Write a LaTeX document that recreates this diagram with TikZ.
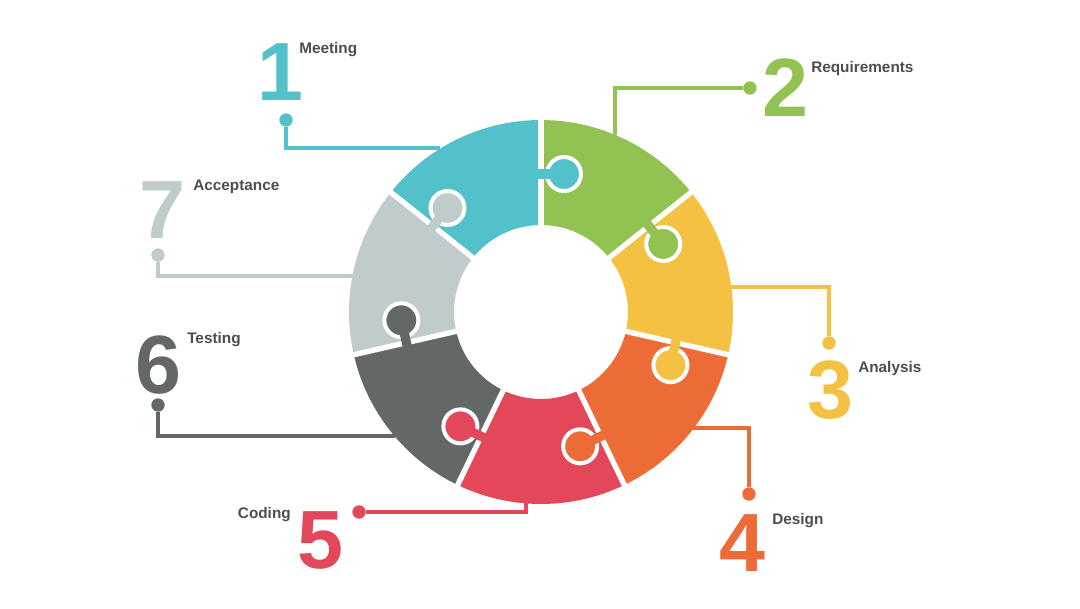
\documentclass[tikz,border=0pt]{standalone}
\usepackage{fontspec}
\setmainfont{Liberation Sans}
\usetikzlibrary{calc}

\definecolor{cMeet}{HTML}{52C1C9}
\definecolor{cReq}{HTML}{92C251}
\definecolor{cAna}{HTML}{F4C143}
\definecolor{cDes}{HTML}{EC6B37}
\definecolor{cCod}{HTML}{E2475A}
\definecolor{cTest}{HTML}{636867}
\definecolor{cAcc}{HTML}{BFCCCB}
\definecolor{txt}{HTML}{4D4D4D}

\tikzset{
  lead/.style={line width=2.3pt},
  dot/.style={circle, fill, inner sep=0pt, minimum size=10pt},
  num/.style={inner sep=0pt, font=\fontsize{62}{62}\selectfont\bfseries},
  lbl/.style={inner sep=0pt, text=txt, font=\fontsize{11.5}{12}\selectfont\bfseries},
}

\begin{document}
\begin{tikzpicture}[x=0.75pt, y=0.75pt]
\useasboundingbox (-541,-296) rectangle (539,312);

% leader lines with dots
\node[dot, cMeet] (d1) at (-255,192) {};
\coordinate (e1) at (-101,164);
\draw[lead, cMeet] (d1) |- (e1);
\node[dot, cReq] (d2) at (209,224) {};
\coordinate (e2) at (74,177);
\draw[lead, cReq] (d2) -| (e2);
\node[dot, cAna] (d3) at (288,-31) {};
\coordinate (e3) at (189,25);
\draw[lead, cAna] (d3) |- (e3);
\node[dot, cDes] (d4) at (208,-182) {};
\coordinate (e4) at (149,-116);
\draw[lead, cDes] (d4) |- (e4);
\node[dot, cCod] (d5) at (-182,-200) {};
\coordinate (e5) at (-15,-180);
\draw[lead, cCod] (d5) -| (e5);
\node[dot, cTest] (d6) at (-383,-93) {};
\coordinate (e6) at (-146,-124);
\draw[lead, cTest] (d6) |- (e6);
\node[dot, cAcc] (d7) at (-383,57) {};
\coordinate (e7) at (-186,36);
\draw[lead, cAcc] (d7) |- (e7);

% puzzle ring
\foreach \k/\col in {0/cMeet,1/cReq,2/cAna,3/cDes,4/cCod,5/cTest,6/cAcc}{
  \pgfmathsetmacro{\a}{141.43-51.43*\k}
  \pgfmathsetmacro{\b}{\a-51.43}
  \fill[\col] (\a:192) arc[start angle=\a, end angle=\b, radius=192]
    -- (\b:87) arc[start angle=\b, end angle=\a, radius=87] -- cycle;
}
\foreach \k in {0,...,6}{
  \pgfmathsetmacro{\a}{141.43-51.43*\k}
  \draw[white, line width=4pt] (\a:80) -- (\a:200);
}
\foreach \k/\col in {0/cMeet,1/cReq,2/cAna,3/cDes,4/cCod,5/cTest,6/cAcc}{
  \pgfmathsetmacro{\b}{141.43-51.43*(\k+1)}
  \filldraw[fill=\col, draw=white, line width=3pt]
    ($(\b:138)+(\b-90:23)$) circle (17);
  \draw[\col, line width=7pt] ($(\b:138)+(\b-90:-4)$) -- ($(\b:138)+(\b-90:10)$);
}

% numbers and labels
\node[num, cMeet] (n1) at (-261,240) {1};
\node[lbl, anchor=west] (l1) at (-242,262) {Meeting};
\node[num, cReq] (n2) at (244,224) {2};
\node[lbl, anchor=west] (l2) at (270,243) {Requirements};
\node[num, cAna] (n3) at (289,-78) {3};
\node[lbl, anchor=west] (l3) at (317,-57) {Analysis};
\node[num, cDes] (n4) at (201,-231) {4};
\node[lbl, anchor=west] (l4) at (231,-209) {Design};
\node[num, cCod] (n5) at (-221,-228) {5};
\node[lbl, anchor=east] (l5) at (-250,-203) {Coding};
\node[num, cTest] (n6) at (-383,-53) {6};
\node[lbl, anchor=west] (l6) at (-354,-28) {Testing};
\node[num, cAcc] (n7) at (-379,102) {7};
\node[lbl, anchor=west] (l7) at (-348,125) {Acceptance};
\end{tikzpicture}
\end{document}
